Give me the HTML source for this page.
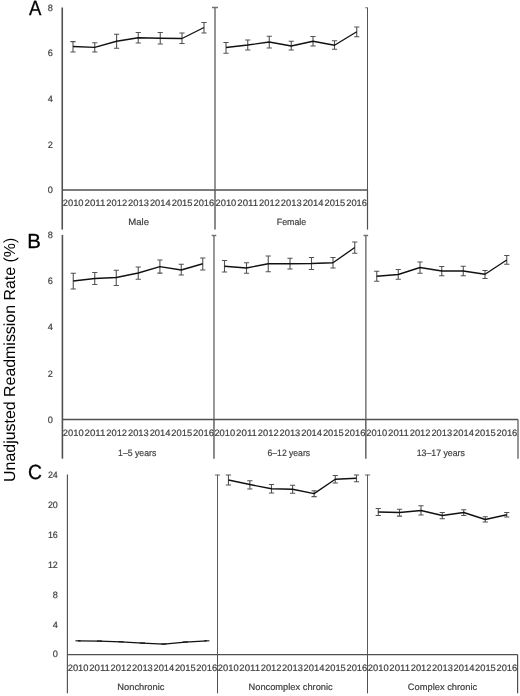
<!DOCTYPE html>
<html lang="en">
<head>
<meta charset="utf-8">
<title>Unadjusted Readmission Rate</title>
<style>
html,body{margin:0;padding:0;background:#fff;}
body{width:520px;height:696px;overflow:hidden;}
svg{display:block;font-family:'Liberation Sans', sans-serif;text-rendering:geometricPrecision;}
</style>
</head>
<body>
<svg width="520" height="696" viewBox="0 0 520 696">
<rect width="520" height="696" fill="#fff"/>
<path d="M62.25 7.5V229.6" stroke="#505050" stroke-width="1.6"/>
<path d="M62.25 190.0H367.5" stroke="#505050" stroke-width="1.3"/>
<path d="M215.0 7.5V190.0M212.0 7.5H218.0" stroke="#727272" stroke-width="1.5" fill="none"/>
<path d="M215.0 190.0V229.6" stroke="#444" stroke-width="1.25" fill="none"/>
<path d="M365.0 7.7H367.5" stroke="#999" stroke-width="1.2" fill="none"/>
<path d="M367.5 7.5V190.0" stroke="#555" stroke-width="1.05" fill="none"/>
<path d="M367.5 190.0V229.6" stroke="#505050" stroke-width="1.2" fill="none"/>
<text x="52.9" y="10.8" font-size="9.2" text-anchor="end" fill="#404040" stroke="#404040" stroke-width="0.2">8</text>
<text x="52.9" y="56.3" font-size="9.2" text-anchor="end" fill="#404040" stroke="#404040" stroke-width="0.2">6</text>
<text x="52.9" y="102.05" font-size="9.2" text-anchor="end" fill="#404040" stroke="#404040" stroke-width="0.2">4</text>
<text x="52.9" y="147.55" font-size="9.2" text-anchor="end" fill="#404040" stroke="#404040" stroke-width="0.2">2</text>
<text x="52.9" y="193.05" font-size="9.2" text-anchor="end" fill="#404040" stroke="#404040" stroke-width="0.2">0</text>
<text x="73.14" y="206.3" font-size="9.2" text-anchor="middle" fill="#404040" textLength="20.8" lengthAdjust="spacingAndGlyphs" stroke="#404040" stroke-width="0.2">2010</text>
<text x="94.94" y="206.3" font-size="9.2" text-anchor="middle" fill="#404040" textLength="20.8" lengthAdjust="spacingAndGlyphs" stroke="#404040" stroke-width="0.2">2011</text>
<text x="116.72" y="206.3" font-size="9.2" text-anchor="middle" fill="#404040" textLength="20.8" lengthAdjust="spacingAndGlyphs" stroke="#404040" stroke-width="0.2">2012</text>
<text x="138.51" y="206.3" font-size="9.2" text-anchor="middle" fill="#404040" textLength="20.8" lengthAdjust="spacingAndGlyphs" stroke="#404040" stroke-width="0.2">2013</text>
<text x="160.31" y="206.3" font-size="9.2" text-anchor="middle" fill="#404040" textLength="20.8" lengthAdjust="spacingAndGlyphs" stroke="#404040" stroke-width="0.2">2014</text>
<text x="182.09" y="206.3" font-size="9.2" text-anchor="middle" fill="#404040" textLength="20.8" lengthAdjust="spacingAndGlyphs" stroke="#404040" stroke-width="0.2">2015</text>
<text x="203.88" y="206.3" font-size="9.2" text-anchor="middle" fill="#404040" textLength="20.8" lengthAdjust="spacingAndGlyphs" stroke="#404040" stroke-width="0.2">2016</text>
<text x="225.90" y="206.3" font-size="9.2" text-anchor="middle" fill="#404040" textLength="20.8" lengthAdjust="spacingAndGlyphs" stroke="#404040" stroke-width="0.2">2010</text>
<text x="247.69" y="206.3" font-size="9.2" text-anchor="middle" fill="#404040" textLength="20.8" lengthAdjust="spacingAndGlyphs" stroke="#404040" stroke-width="0.2">2011</text>
<text x="269.48" y="206.3" font-size="9.2" text-anchor="middle" fill="#404040" textLength="20.8" lengthAdjust="spacingAndGlyphs" stroke="#404040" stroke-width="0.2">2012</text>
<text x="291.26" y="206.3" font-size="9.2" text-anchor="middle" fill="#404040" textLength="20.8" lengthAdjust="spacingAndGlyphs" stroke="#404040" stroke-width="0.2">2013</text>
<text x="313.06" y="206.3" font-size="9.2" text-anchor="middle" fill="#404040" textLength="20.8" lengthAdjust="spacingAndGlyphs" stroke="#404040" stroke-width="0.2">2014</text>
<text x="334.85" y="206.3" font-size="9.2" text-anchor="middle" fill="#404040" textLength="20.8" lengthAdjust="spacingAndGlyphs" stroke="#404040" stroke-width="0.2">2015</text>
<text x="356.63" y="206.3" font-size="9.2" text-anchor="middle" fill="#404040" textLength="20.8" lengthAdjust="spacingAndGlyphs" stroke="#404040" stroke-width="0.2">2016</text>
<text x="138.6" y="225.3" font-size="9.2" text-anchor="middle" fill="#404040" textLength="20.75" lengthAdjust="spacingAndGlyphs" stroke="#404040" stroke-width="0.2">Male</text>
<text x="291.5" y="225.3" font-size="9.2" text-anchor="middle" fill="#404040" textLength="29.5" lengthAdjust="spacingAndGlyphs" stroke="#404040" stroke-width="0.2">Female</text>
<path d="M73.00 41.60V52.00M70.40 41.60H75.60M70.40 52.00H75.60" stroke="#525252" stroke-width="1.1" fill="none"/>
<path d="M94.75 42.80V52.00M92.15 42.80H97.35M92.15 52.00H97.35" stroke="#525252" stroke-width="1.1" fill="none"/>
<path d="M116.60 34.25V48.25M114.00 34.25H119.20M114.00 48.25H119.20" stroke="#525252" stroke-width="1.1" fill="none"/>
<path d="M138.25 32.50V43.00M135.65 32.50H140.85M135.65 43.00H140.85" stroke="#525252" stroke-width="1.1" fill="none"/>
<path d="M160.25 32.50V44.00M157.65 32.50H162.85M157.65 44.00H162.85" stroke="#525252" stroke-width="1.1" fill="none"/>
<path d="M182.00 33.00V43.50M179.40 33.00H184.60M179.40 43.50H184.60" stroke="#525252" stroke-width="1.1" fill="none"/>
<path d="M204.00 22.50V33.00M201.40 22.50H206.60M201.40 33.00H206.60" stroke="#525252" stroke-width="1.1" fill="none"/>
<path d="M73.00 46.50L94.75 47.30L116.60 41.25L138.25 37.75L160.25 38.25L182.00 38.50L204.00 27.50" stroke="#111" stroke-width="1.35" fill="none" stroke-linejoin="round"/>
<path d="M226.00 42.50V53.20M223.40 42.50H228.60M223.40 53.20H228.60" stroke="#525252" stroke-width="1.1" fill="none"/>
<path d="M247.75 40.00V50.00M245.15 40.00H250.35M245.15 50.00H250.35" stroke="#525252" stroke-width="1.1" fill="none"/>
<path d="M269.25 36.25V48.00M266.65 36.25H271.85M266.65 48.00H271.85" stroke="#525252" stroke-width="1.1" fill="none"/>
<path d="M291.25 41.25V50.00M288.65 41.25H293.85M288.65 50.00H293.85" stroke="#525252" stroke-width="1.1" fill="none"/>
<path d="M313.00 36.50V46.00M310.40 36.50H315.60M310.40 46.00H315.60" stroke="#525252" stroke-width="1.1" fill="none"/>
<path d="M334.50 40.75V49.25M331.90 40.75H337.10M331.90 49.25H337.10" stroke="#525252" stroke-width="1.1" fill="none"/>
<path d="M356.75 27.00V36.75M354.15 27.00H359.35M354.15 36.75H359.35" stroke="#525252" stroke-width="1.1" fill="none"/>
<path d="M226.00 47.50L247.75 45.00L269.25 42.00L291.25 46.00L313.00 41.25L334.50 45.25L356.75 31.75" stroke="#111" stroke-width="1.35" fill="none" stroke-linejoin="round"/>
<path d="M62.4 234.9V458.7" stroke="#505050" stroke-width="1.6"/>
<path d="M62.4 419.5H518.0" stroke="#505050" stroke-width="1.3"/>
<path d="M213.98 235.5V419.5M211.67999999999998 235.5H216.28" stroke="#727272" stroke-width="1.45" fill="none"/>
<path d="M213.98 419.5V458.7" stroke="#444" stroke-width="1.25" fill="none"/>
<path d="M365.85 235.5V419.5M363.55 235.5H368.15000000000003" stroke="#727272" stroke-width="1.45" fill="none"/>
<path d="M365.85 419.5V458.7" stroke="#444" stroke-width="1.25" fill="none"/>
<path d="M518.0 419.5V458.7" stroke="#505050" stroke-width="1.2"/>
<text x="52.9" y="237.9" font-size="9.2" text-anchor="end" fill="#404040" stroke="#404040" stroke-width="0.2">8</text>
<text x="52.9" y="284.40000000000003" font-size="9.2" text-anchor="end" fill="#404040" stroke="#404040" stroke-width="0.2">6</text>
<text x="52.9" y="330.40000000000003" font-size="9.2" text-anchor="end" fill="#404040" stroke="#404040" stroke-width="0.2">4</text>
<text x="52.9" y="376.5" font-size="9.2" text-anchor="end" fill="#404040" stroke="#404040" stroke-width="0.2">2</text>
<text x="52.9" y="422.55" font-size="9.2" text-anchor="end" fill="#404040" stroke="#404040" stroke-width="0.2">0</text>
<text x="73.25" y="436.4" font-size="9.2" text-anchor="middle" fill="#404040" textLength="20.8" lengthAdjust="spacingAndGlyphs" stroke="#404040" stroke-width="0.2">2010</text>
<text x="94.95" y="436.4" font-size="9.2" text-anchor="middle" fill="#404040" textLength="20.8" lengthAdjust="spacingAndGlyphs" stroke="#404040" stroke-width="0.2">2011</text>
<text x="116.65" y="436.4" font-size="9.2" text-anchor="middle" fill="#404040" textLength="20.8" lengthAdjust="spacingAndGlyphs" stroke="#404040" stroke-width="0.2">2012</text>
<text x="138.35" y="436.4" font-size="9.2" text-anchor="middle" fill="#404040" textLength="20.8" lengthAdjust="spacingAndGlyphs" stroke="#404040" stroke-width="0.2">2013</text>
<text x="160.05" y="436.4" font-size="9.2" text-anchor="middle" fill="#404040" textLength="20.8" lengthAdjust="spacingAndGlyphs" stroke="#404040" stroke-width="0.2">2014</text>
<text x="181.75" y="436.4" font-size="9.2" text-anchor="middle" fill="#404040" textLength="20.8" lengthAdjust="spacingAndGlyphs" stroke="#404040" stroke-width="0.2">2015</text>
<text x="203.45" y="436.4" font-size="9.2" text-anchor="middle" fill="#404040" textLength="20.8" lengthAdjust="spacingAndGlyphs" stroke="#404040" stroke-width="0.2">2016</text>
<text x="224.83" y="436.4" font-size="9.2" text-anchor="middle" fill="#404040" textLength="20.8" lengthAdjust="spacingAndGlyphs" stroke="#404040" stroke-width="0.2">2010</text>
<text x="246.53" y="436.4" font-size="9.2" text-anchor="middle" fill="#404040" textLength="20.8" lengthAdjust="spacingAndGlyphs" stroke="#404040" stroke-width="0.2">2011</text>
<text x="268.23" y="436.4" font-size="9.2" text-anchor="middle" fill="#404040" textLength="20.8" lengthAdjust="spacingAndGlyphs" stroke="#404040" stroke-width="0.2">2012</text>
<text x="289.93" y="436.4" font-size="9.2" text-anchor="middle" fill="#404040" textLength="20.8" lengthAdjust="spacingAndGlyphs" stroke="#404040" stroke-width="0.2">2013</text>
<text x="311.63" y="436.4" font-size="9.2" text-anchor="middle" fill="#404040" textLength="20.8" lengthAdjust="spacingAndGlyphs" stroke="#404040" stroke-width="0.2">2014</text>
<text x="333.33" y="436.4" font-size="9.2" text-anchor="middle" fill="#404040" textLength="20.8" lengthAdjust="spacingAndGlyphs" stroke="#404040" stroke-width="0.2">2015</text>
<text x="355.03" y="436.4" font-size="9.2" text-anchor="middle" fill="#404040" textLength="20.8" lengthAdjust="spacingAndGlyphs" stroke="#404040" stroke-width="0.2">2016</text>
<text x="376.70" y="436.4" font-size="9.2" text-anchor="middle" fill="#404040" textLength="20.8" lengthAdjust="spacingAndGlyphs" stroke="#404040" stroke-width="0.2">2010</text>
<text x="398.40" y="436.4" font-size="9.2" text-anchor="middle" fill="#404040" textLength="20.8" lengthAdjust="spacingAndGlyphs" stroke="#404040" stroke-width="0.2">2011</text>
<text x="420.10" y="436.4" font-size="9.2" text-anchor="middle" fill="#404040" textLength="20.8" lengthAdjust="spacingAndGlyphs" stroke="#404040" stroke-width="0.2">2012</text>
<text x="441.80" y="436.4" font-size="9.2" text-anchor="middle" fill="#404040" textLength="20.8" lengthAdjust="spacingAndGlyphs" stroke="#404040" stroke-width="0.2">2013</text>
<text x="463.50" y="436.4" font-size="9.2" text-anchor="middle" fill="#404040" textLength="20.8" lengthAdjust="spacingAndGlyphs" stroke="#404040" stroke-width="0.2">2014</text>
<text x="485.20" y="436.4" font-size="9.2" text-anchor="middle" fill="#404040" textLength="20.8" lengthAdjust="spacingAndGlyphs" stroke="#404040" stroke-width="0.2">2015</text>
<text x="506.90" y="436.4" font-size="9.2" text-anchor="middle" fill="#404040" textLength="20.8" lengthAdjust="spacingAndGlyphs" stroke="#404040" stroke-width="0.2">2016</text>
<text x="137.2" y="455.6" font-size="9.2" text-anchor="middle" fill="#404040" textLength="38.25" lengthAdjust="spacingAndGlyphs" stroke="#404040" stroke-width="0.2">1–5 years</text>
<text x="288.8" y="455.6" font-size="9.2" text-anchor="middle" fill="#404040" textLength="42.5" lengthAdjust="spacingAndGlyphs" stroke="#404040" stroke-width="0.2">6–12 years</text>
<text x="440.8" y="455.6" font-size="9.2" text-anchor="middle" fill="#404040" textLength="48.25" lengthAdjust="spacingAndGlyphs" stroke="#404040" stroke-width="0.2">13–17 years</text>
<path d="M73.25 273.25V289.00M70.65 273.25H75.85M70.65 289.00H75.85" stroke="#525252" stroke-width="1.1" fill="none"/>
<path d="M94.75 272.50V284.50M92.15 272.50H97.35M92.15 284.50H97.35" stroke="#525252" stroke-width="1.1" fill="none"/>
<path d="M116.25 270.25V285.50M113.65 270.25H118.85M113.65 285.50H118.85" stroke="#525252" stroke-width="1.1" fill="none"/>
<path d="M138.25 267.00V279.25M135.65 267.00H140.85M135.65 279.25H140.85" stroke="#525252" stroke-width="1.1" fill="none"/>
<path d="M159.90 260.00V273.10M157.30 260.00H162.50M157.30 273.10H162.50" stroke="#525252" stroke-width="1.1" fill="none"/>
<path d="M181.25 264.25V275.00M178.65 264.25H183.85M178.65 275.00H183.85" stroke="#525252" stroke-width="1.1" fill="none"/>
<path d="M202.75 258.00V270.00M200.15 258.00H205.35M200.15 270.00H205.35" stroke="#525252" stroke-width="1.1" fill="none"/>
<path d="M73.25 281.00L94.75 278.50L116.25 277.50L138.25 273.00L159.90 266.60L181.25 270.00L202.75 263.75" stroke="#111" stroke-width="1.35" fill="none" stroke-linejoin="round"/>
<path d="M224.50 260.50V272.00M221.90 260.50H227.10M221.90 272.00H227.10" stroke="#525252" stroke-width="1.1" fill="none"/>
<path d="M246.50 262.75V273.25M243.90 262.75H249.10M243.90 273.25H249.10" stroke="#525252" stroke-width="1.1" fill="none"/>
<path d="M268.25 256.00V271.75M265.65 256.00H270.85M265.65 271.75H270.85" stroke="#525252" stroke-width="1.1" fill="none"/>
<path d="M290.00 258.25V269.00M287.40 258.25H292.60M287.40 269.00H292.60" stroke="#525252" stroke-width="1.1" fill="none"/>
<path d="M311.50 257.50V269.50M308.90 257.50H314.10M308.90 269.50H314.10" stroke="#525252" stroke-width="1.1" fill="none"/>
<path d="M333.00 257.50V268.00M330.40 257.50H335.60M330.40 268.00H335.60" stroke="#525252" stroke-width="1.1" fill="none"/>
<path d="M354.75 242.00V253.25M352.15 242.00H357.35M352.15 253.25H357.35" stroke="#525252" stroke-width="1.1" fill="none"/>
<path d="M224.50 266.25L246.50 268.00L268.25 263.75L290.00 263.75L311.50 263.50L333.00 262.75L354.75 247.50" stroke="#111" stroke-width="1.35" fill="none" stroke-linejoin="round"/>
<path d="M376.75 271.25V281.25M374.15 271.25H379.35M374.15 281.25H379.35" stroke="#525252" stroke-width="1.1" fill="none"/>
<path d="M398.25 269.50V279.25M395.65 269.50H400.85M395.65 279.25H400.85" stroke="#525252" stroke-width="1.1" fill="none"/>
<path d="M420.00 262.00V273.25M417.40 262.00H422.60M417.40 273.25H422.60" stroke="#525252" stroke-width="1.1" fill="none"/>
<path d="M441.75 266.50V275.75M439.15 266.50H444.35M439.15 275.75H444.35" stroke="#525252" stroke-width="1.1" fill="none"/>
<path d="M463.25 266.25V275.75M460.65 266.25H465.85M460.65 275.75H465.85" stroke="#525252" stroke-width="1.1" fill="none"/>
<path d="M485.00 270.50V278.50M482.40 270.50H487.60M482.40 278.50H487.60" stroke="#525252" stroke-width="1.1" fill="none"/>
<path d="M506.75 255.50V264.25M504.15 255.50H509.35M504.15 264.25H509.35" stroke="#525252" stroke-width="1.1" fill="none"/>
<path d="M376.75 276.25L398.25 274.50L420.00 267.50L441.75 271.00L463.25 271.00L485.00 274.25L506.75 260.00" stroke="#111" stroke-width="1.35" fill="none" stroke-linejoin="round"/>
<path d="M67.4 474.4V693.3" stroke="#505050" stroke-width="1.15"/>
<path d="M67.4 654.55H517.6" stroke="#505050" stroke-width="1.15"/>
<path d="M214.9 475H220.1" stroke="#8a8a8a" stroke-width="1.3" fill="none"/>
<path d="M217.5 474.7V654.55" stroke="#5a5a5a" stroke-width="1.05" fill="none"/>
<path d="M217.5 654.55V693.3" stroke="#505050" stroke-width="1.05" fill="none"/>
<path d="M364.9 475H370.1" stroke="#8a8a8a" stroke-width="1.3" fill="none"/>
<path d="M367.5 474.7V654.55" stroke="#5a5a5a" stroke-width="1.05" fill="none"/>
<path d="M367.5 654.55V693.3" stroke="#505050" stroke-width="1.05" fill="none"/>
<path d="M517.6 654.55V693.3" stroke="#505050" stroke-width="1.2"/>
<text x="57.8" y="477.6" font-size="9.2" text-anchor="end" fill="#404040" textLength="9.9" lengthAdjust="spacingAndGlyphs" stroke="#404040" stroke-width="0.2">24</text>
<text x="57.8" y="507.6" font-size="9.2" text-anchor="end" fill="#404040" textLength="9.9" lengthAdjust="spacingAndGlyphs" stroke="#404040" stroke-width="0.2">20</text>
<text x="57.8" y="537.6" font-size="9.2" text-anchor="end" fill="#404040" textLength="9.9" lengthAdjust="spacingAndGlyphs" stroke="#404040" stroke-width="0.2">16</text>
<text x="57.8" y="567.6" font-size="9.2" text-anchor="end" fill="#404040" textLength="9.9" lengthAdjust="spacingAndGlyphs" stroke="#404040" stroke-width="0.2">12</text>
<text x="57.8" y="597.6" font-size="9.2" text-anchor="end" fill="#404040" stroke="#404040" stroke-width="0.2">8</text>
<text x="57.8" y="627.5" font-size="9.2" text-anchor="end" fill="#404040" stroke="#404040" stroke-width="0.2">4</text>
<text x="57.8" y="657.35" font-size="9.2" text-anchor="end" fill="#404040" stroke="#404040" stroke-width="0.2">0</text>
<text x="78.12" y="670.9" font-size="9.2" text-anchor="middle" fill="#404040" textLength="20.8" lengthAdjust="spacingAndGlyphs" stroke="#404040" stroke-width="0.2">2010</text>
<text x="99.56" y="670.9" font-size="9.2" text-anchor="middle" fill="#404040" textLength="20.8" lengthAdjust="spacingAndGlyphs" stroke="#404040" stroke-width="0.2">2011</text>
<text x="121.00" y="670.9" font-size="9.2" text-anchor="middle" fill="#404040" textLength="20.8" lengthAdjust="spacingAndGlyphs" stroke="#404040" stroke-width="0.2">2012</text>
<text x="142.44" y="670.9" font-size="9.2" text-anchor="middle" fill="#404040" textLength="20.8" lengthAdjust="spacingAndGlyphs" stroke="#404040" stroke-width="0.2">2013</text>
<text x="163.88" y="670.9" font-size="9.2" text-anchor="middle" fill="#404040" textLength="20.8" lengthAdjust="spacingAndGlyphs" stroke="#404040" stroke-width="0.2">2014</text>
<text x="185.32" y="670.9" font-size="9.2" text-anchor="middle" fill="#404040" textLength="20.8" lengthAdjust="spacingAndGlyphs" stroke="#404040" stroke-width="0.2">2015</text>
<text x="206.76" y="670.9" font-size="9.2" text-anchor="middle" fill="#404040" textLength="20.8" lengthAdjust="spacingAndGlyphs" stroke="#404040" stroke-width="0.2">2016</text>
<text x="228.22" y="670.9" font-size="9.2" text-anchor="middle" fill="#404040" textLength="20.8" lengthAdjust="spacingAndGlyphs" stroke="#404040" stroke-width="0.2">2010</text>
<text x="249.66" y="670.9" font-size="9.2" text-anchor="middle" fill="#404040" textLength="20.8" lengthAdjust="spacingAndGlyphs" stroke="#404040" stroke-width="0.2">2011</text>
<text x="271.10" y="670.9" font-size="9.2" text-anchor="middle" fill="#404040" textLength="20.8" lengthAdjust="spacingAndGlyphs" stroke="#404040" stroke-width="0.2">2012</text>
<text x="292.54" y="670.9" font-size="9.2" text-anchor="middle" fill="#404040" textLength="20.8" lengthAdjust="spacingAndGlyphs" stroke="#404040" stroke-width="0.2">2013</text>
<text x="313.98" y="670.9" font-size="9.2" text-anchor="middle" fill="#404040" textLength="20.8" lengthAdjust="spacingAndGlyphs" stroke="#404040" stroke-width="0.2">2014</text>
<text x="335.42" y="670.9" font-size="9.2" text-anchor="middle" fill="#404040" textLength="20.8" lengthAdjust="spacingAndGlyphs" stroke="#404040" stroke-width="0.2">2015</text>
<text x="356.86" y="670.9" font-size="9.2" text-anchor="middle" fill="#404040" textLength="20.8" lengthAdjust="spacingAndGlyphs" stroke="#404040" stroke-width="0.2">2016</text>
<text x="378.22" y="670.9" font-size="9.2" text-anchor="middle" fill="#404040" textLength="20.8" lengthAdjust="spacingAndGlyphs" stroke="#404040" stroke-width="0.2">2010</text>
<text x="399.66" y="670.9" font-size="9.2" text-anchor="middle" fill="#404040" textLength="20.8" lengthAdjust="spacingAndGlyphs" stroke="#404040" stroke-width="0.2">2011</text>
<text x="421.10" y="670.9" font-size="9.2" text-anchor="middle" fill="#404040" textLength="20.8" lengthAdjust="spacingAndGlyphs" stroke="#404040" stroke-width="0.2">2012</text>
<text x="442.54" y="670.9" font-size="9.2" text-anchor="middle" fill="#404040" textLength="20.8" lengthAdjust="spacingAndGlyphs" stroke="#404040" stroke-width="0.2">2013</text>
<text x="463.98" y="670.9" font-size="9.2" text-anchor="middle" fill="#404040" textLength="20.8" lengthAdjust="spacingAndGlyphs" stroke="#404040" stroke-width="0.2">2014</text>
<text x="485.42" y="670.9" font-size="9.2" text-anchor="middle" fill="#404040" textLength="20.8" lengthAdjust="spacingAndGlyphs" stroke="#404040" stroke-width="0.2">2015</text>
<text x="506.86" y="670.9" font-size="9.2" text-anchor="middle" fill="#404040" textLength="20.8" lengthAdjust="spacingAndGlyphs" stroke="#404040" stroke-width="0.2">2016</text>
<text x="140.9" y="690.1" font-size="9.2" text-anchor="middle" fill="#404040" textLength="47.2" lengthAdjust="spacingAndGlyphs" stroke="#404040" stroke-width="0.2">Nonchronic</text>
<text x="290.6" y="690.1" font-size="9.2" text-anchor="middle" fill="#404040" textLength="84.2" lengthAdjust="spacingAndGlyphs" stroke="#404040" stroke-width="0.2">Noncomplex chronic</text>
<text x="442.5" y="690.1" font-size="9.2" text-anchor="middle" fill="#404040" textLength="69.3" lengthAdjust="spacingAndGlyphs" stroke="#404040" stroke-width="0.2">Complex chronic</text>
<path d="M78.00 640.60V641.00M75.40 640.60H80.60M75.40 641.00H80.60" stroke="#525252" stroke-width="1.1" fill="none"/>
<path d="M99.50 640.90V641.30M96.90 640.90H102.10M96.90 641.30H102.10" stroke="#525252" stroke-width="1.1" fill="none"/>
<path d="M121.00 641.60V642.00M118.40 641.60H123.60M118.40 642.00H123.60" stroke="#525252" stroke-width="1.1" fill="none"/>
<path d="M142.40 642.90V643.30M139.80 642.90H145.00M139.80 643.30H145.00" stroke="#525252" stroke-width="1.1" fill="none"/>
<path d="M163.80 643.90V644.30M161.20 643.90H166.40M161.20 644.30H166.40" stroke="#525252" stroke-width="1.1" fill="none"/>
<path d="M185.30 641.90V642.30M182.70 641.90H187.90M182.70 642.30H187.90" stroke="#525252" stroke-width="1.1" fill="none"/>
<path d="M206.80 640.60V641.00M204.20 640.60H209.40M204.20 641.00H209.40" stroke="#525252" stroke-width="1.1" fill="none"/>
<path d="M78.00 640.80L99.50 641.10L121.00 641.80L142.40 643.10L163.80 644.10L185.30 642.10L206.80 640.80" stroke="#111" stroke-width="1.35" fill="none" stroke-linejoin="round"/>
<path d="M228.45 475.00V485.00M225.85 475.00H231.05M225.85 485.00H231.05" stroke="#525252" stroke-width="1.1" fill="none"/>
<path d="M249.85 480.70V489.00M247.25 480.70H252.45M247.25 489.00H252.45" stroke="#525252" stroke-width="1.1" fill="none"/>
<path d="M271.50 484.50V493.00M268.90 484.50H274.10M268.90 493.00H274.10" stroke="#525252" stroke-width="1.1" fill="none"/>
<path d="M292.60 485.25V493.25M290.00 485.25H295.20M290.00 493.25H295.20" stroke="#525252" stroke-width="1.1" fill="none"/>
<path d="M314.10 490.75V496.60M311.50 490.75H316.70M311.50 496.60H316.70" stroke="#525252" stroke-width="1.1" fill="none"/>
<path d="M335.25 475.50V483.00M332.65 475.50H337.85M332.65 483.00H337.85" stroke="#525252" stroke-width="1.1" fill="none"/>
<path d="M356.50 475.00V481.75M353.90 475.00H359.10M353.90 481.75H359.10" stroke="#525252" stroke-width="1.1" fill="none"/>
<path d="M228.45 480.00L249.85 484.50L271.50 488.75L292.60 489.25L314.10 493.60L335.25 479.25L356.50 478.25" stroke="#111" stroke-width="1.35" fill="none" stroke-linejoin="round"/>
<path d="M378.25 508.50V515.50M375.65 508.50H380.85M375.65 515.50H380.85" stroke="#525252" stroke-width="1.1" fill="none"/>
<path d="M399.50 509.25V516.10M396.90 509.25H402.10M396.90 516.10H402.10" stroke="#525252" stroke-width="1.1" fill="none"/>
<path d="M421.00 505.75V515.00M418.40 505.75H423.60M418.40 515.00H423.60" stroke="#525252" stroke-width="1.1" fill="none"/>
<path d="M442.25 512.50V518.75M439.65 512.50H444.85M439.65 518.75H444.85" stroke="#525252" stroke-width="1.1" fill="none"/>
<path d="M463.75 509.75V515.50M461.15 509.75H466.35M461.15 515.50H466.35" stroke="#525252" stroke-width="1.1" fill="none"/>
<path d="M485.25 516.75V522.00M482.65 516.75H487.85M482.65 522.00H487.85" stroke="#525252" stroke-width="1.1" fill="none"/>
<path d="M506.75 512.50V517.00M504.15 512.50H509.35M504.15 517.00H509.35" stroke="#525252" stroke-width="1.1" fill="none"/>
<path d="M378.25 512.00L399.50 512.50L421.00 510.50L442.25 515.50L463.75 512.50L485.25 519.50L506.75 514.75" stroke="#111" stroke-width="1.35" fill="none" stroke-linejoin="round"/>
<text transform="translate(28.9 15.4) scale(0.9 1)" font-size="20.6" fill="#000" stroke="#000" stroke-width="0.3">A</text>
<text x="27.2" y="247.8" font-size="20.4" fill="#000" stroke="#000" stroke-width="0.3">B</text>
<text transform="translate(28 479.2) scale(0.95 1)" font-size="20.4" fill="#000" stroke="#000" stroke-width="0.3">C</text>
<text transform="translate(14.9 481.9) rotate(-90)" font-size="16" fill="#000" textLength="244.2" lengthAdjust="spacingAndGlyphs">Unadjusted Readmission Rate (%)</text>
</svg>
</body>
</html>
